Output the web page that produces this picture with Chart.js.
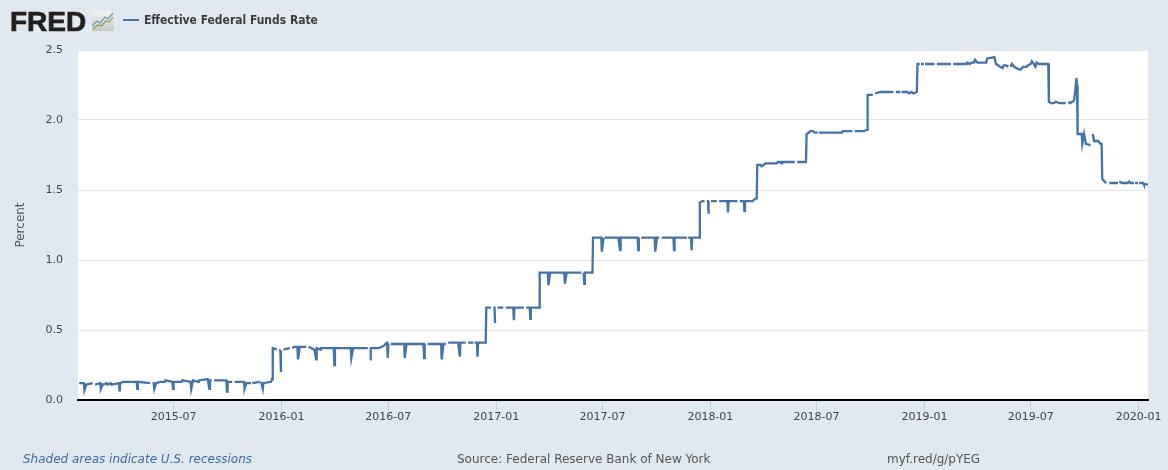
<!DOCTYPE html>
<html>
<head>
<meta charset="utf-8">
<title>Effective Federal Funds Rate</title>
<script src="https://cdn.jsdelivr.net/npm/chart.js@4"></script>
<style>
  html, body { margin: 0; padding: 0; background: #e1e9f0; }
  body { position: relative; width: 1168px; height: 470px; overflow: hidden; font-family: "DejaVu Sans", sans-serif; }
  canvas { position: absolute; left: 0; top: 0; }
  .logo { position: absolute; left: 10px; top: 5px; font: bold 28px/34px "Liberation Sans", sans-serif; color: #231f20; -webkit-text-stroke: 0.7px #231f20; }
  .icon { position: absolute; left: 92px; top: 11px; }
  .legend-line { position: absolute; left: 123px; top: 19px; width: 16px; height: 2px; background: #4572a7; }
  .legend-text { position: absolute; left: 144px; top: 12px; font-size: 12px; line-height: 16px; font-weight: bold; color: #3c3c3c; white-space: nowrap; transform: scaleX(0.897); transform-origin: left center; }
  .foot { position: absolute; top: 451px; font-size: 12px; line-height: 16px; color: #555; white-space: nowrap; }
  .foot.note { left: 23px; font-style: italic; color: #3e6a9f; }
  .foot.source { left: 457px; }
  .foot.link { left: 887px; }
</style>
</head>
<body>
<canvas id="chart" width="1168" height="470"></canvas>
<div class="logo">FRED</div>
<svg class="icon" width="22" height="20" viewBox="0 0 22 20">
  <defs><linearGradient id="g" x1="0" y1="0" x2="0" y2="1"><stop offset="0" stop-color="#f2f2f0"/><stop offset="1" stop-color="#c9c9c4"/></linearGradient></defs>
  <rect width="22" height="20" rx="2" fill="url(#g)"/>
  <polyline points="0,15 5,10 8,12 13,6 16,8 21,2" fill="none" stroke="#6f94b8" stroke-width="1.2"/>
  <polyline points="1,18 6,14 9,15 14,10 17,11 21,6" fill="none" stroke="#7ea04a" stroke-width="1.2"/>
</svg>
<div class="legend-line"></div>
<div class="legend-text">Effective Federal Funds Rate</div>
<div class="foot note">Shaded areas indicate U.S. recessions</div>
<div class="foot source">Source: Federal Reserve Bank of New York</div>
<div class="foot link">myf.red/g/pYEG</div>

<script>
// Values, one dates/rates pair per year. null = bank holiday (gap in the line)
const dates2015 = [
  '2015-01-21','2015-01-29','2015-01-30','2015-02-02','2015-02-13','2015-02-16','2015-02-17','2015-02-26','2015-02-27','2015-03-02',
  '2015-03-09','2015-03-10','2015-03-16','2015-03-17','2015-03-30','2015-03-31','2015-04-01','2015-04-06','2015-04-29','2015-04-30',
  '2015-05-01','2015-05-22','2015-05-25','2015-05-26','2015-05-28','2015-05-29','2015-06-01','2015-06-08','2015-06-16','2015-06-17',
  '2015-06-29','2015-06-30','2015-07-01','2015-07-15','2015-07-16','2015-07-30','2015-07-31','2015-08-03','2015-08-12','2015-08-13',
  '2015-08-28','2015-08-31','2015-09-01','2015-09-04','2015-09-07','2015-09-08','2015-09-29','2015-09-30','2015-10-01','2015-10-09',
  '2015-10-12','2015-10-13','2015-10-29','2015-10-30','2015-11-02','2015-11-10','2015-11-11','2015-11-12','2015-11-25','2015-11-26',
  '2015-11-27','2015-11-30','2015-12-01','2015-12-14','2015-12-16','2015-12-17','2015-12-24','2015-12-25','2015-12-28','2015-12-30',
  '2015-12-31'
];
const rates2015 = [
  0.12,0.12,0.07,0.11,0.12,null,0.11,0.12,0.08,0.11,
  0.12,0.11,0.12,0.11,0.12,0.06,0.12,0.13,0.13,0.08,
  0.13,0.12,null,0.12,0.12,0.08,0.12,0.13,0.13,0.14,
  0.13,0.08,0.13,0.13,0.14,0.13,0.08,0.14,0.13,0.14,
  0.15,0.08,0.14,0.14,null,0.14,0.14,0.06,0.13,0.13,
  null,0.13,0.13,0.08,0.12,0.12,null,0.12,0.13,null,
  0.13,0.08,0.12,0.13,0.15,0.37,0.36,null,0.36,0.35,
  0.20
];

const dates2016 = [
  '2016-01-01','2016-01-04','2016-01-15','2016-01-18','2016-01-19','2016-01-22','2016-01-28','2016-01-29','2016-02-01','2016-02-12',
  '2016-02-15','2016-02-16','2016-02-26','2016-02-29','2016-03-01','2016-03-07','2016-03-08','2016-03-30','2016-03-31','2016-04-01',
  '2016-04-28','2016-04-29','2016-05-02','2016-05-27','2016-05-30','2016-05-31','2016-06-01','2016-06-14','2016-06-20','2016-06-24',
  '2016-06-28','2016-06-29','2016-06-30','2016-07-01','2016-07-04','2016-07-05','2016-07-28','2016-07-29','2016-08-01','2016-08-30',
  '2016-08-31','2016-09-01','2016-09-02','2016-09-05','2016-09-06','2016-09-29','2016-09-30','2016-10-03','2016-10-07','2016-10-10',
  '2016-10-11','2016-10-28','2016-10-31','2016-11-01','2016-11-10','2016-11-11','2016-11-14','2016-11-23','2016-11-24','2016-11-25',
  '2016-11-29','2016-11-30','2016-12-01','2016-12-14','2016-12-15','2016-12-23','2016-12-26','2016-12-27','2016-12-29','2016-12-30'
];
const rates2016 = [
  null,0.36,0.37,null,0.37,0.38,0.38,0.29,0.38,0.38,
  null,0.38,0.36,0.29,0.37,0.36,0.37,0.37,0.25,0.37,
  0.37,0.30,0.37,0.37,null,0.29,0.37,0.37,0.38,0.39,
  0.41,0.41,0.30,0.40,null,0.40,0.40,0.30,0.40,0.40,
  0.30,0.40,0.40,null,0.40,0.40,0.29,0.40,0.40,null,
  0.41,0.41,0.31,0.41,0.41,null,0.41,0.41,null,0.41,
  0.41,0.31,0.41,0.41,0.66,0.66,null,0.66,0.66,0.55
];

const dates2017 = [
  '2017-01-02','2017-01-03','2017-01-13','2017-01-16','2017-01-17','2017-01-30','2017-01-31','2017-02-01','2017-02-17','2017-02-20',
  '2017-02-21','2017-02-27','2017-02-28','2017-03-01','2017-03-15','2017-03-16','2017-03-30','2017-03-31','2017-04-03','2017-04-27',
  '2017-04-28','2017-05-01','2017-05-26','2017-05-29','2017-05-30','2017-05-31','2017-06-01','2017-06-14','2017-06-15','2017-06-29',
  '2017-06-30','2017-07-03','2017-07-04','2017-07-05','2017-07-28','2017-07-31','2017-08-01','2017-08-30','2017-08-31','2017-09-01',
  '2017-09-04','2017-09-05','2017-09-28','2017-09-29','2017-10-02','2017-10-06','2017-10-09','2017-10-10','2017-10-30','2017-10-31',
  '2017-11-01','2017-11-22','2017-11-23','2017-11-24','2017-11-29','2017-11-30','2017-12-01','2017-12-13','2017-12-14','2017-12-18',
  '2017-12-22','2017-12-25','2017-12-26','2017-12-28','2017-12-29'
];
const rates2017 = [
  null,0.66,0.66,null,0.66,0.66,0.57,0.66,0.66,null,
  0.66,0.66,0.58,0.66,0.66,0.91,0.91,0.82,0.91,0.91,
  0.83,0.91,0.91,null,0.91,0.83,0.91,0.91,1.16,1.16,
  1.06,1.16,null,1.16,1.16,1.07,1.16,1.16,1.07,1.16,
  null,1.16,1.16,1.06,1.16,1.16,null,1.16,1.16,1.07,
  1.16,1.16,null,1.16,1.16,1.07,1.16,1.16,1.41,1.42,
  1.42,null,1.42,1.42,1.33
];

const dates2018 = [
  '2018-01-01','2018-01-02','2018-01-12','2018-01-15','2018-01-16','2018-01-30','2018-01-31','2018-02-01','2018-02-16','2018-02-19',
  '2018-02-20','2018-02-27','2018-02-28','2018-03-01','2018-03-14','2018-03-16','2018-03-20','2018-03-21','2018-03-22','2018-03-27',
  '2018-03-29','2018-04-02','2018-04-05','2018-04-24','2018-04-26','2018-05-01','2018-05-02','2018-05-03','2018-05-25','2018-05-28',
  '2018-05-29','2018-06-13','2018-06-14','2018-06-18','2018-06-20','2018-06-25','2018-06-28','2018-07-03','2018-07-04','2018-07-05',
  '2018-08-13','2018-08-15','2018-08-31','2018-09-03','2018-09-04','2018-09-20','2018-09-25','2018-09-26','2018-10-05','2018-10-08',
  '2018-10-09','2018-10-18','2018-11-09','2018-11-12','2018-11-13','2018-11-21','2018-11-22','2018-11-23','2018-12-03','2018-12-06',
  '2018-12-10','2018-12-13','2018-12-19','2018-12-20','2018-12-24','2018-12-25','2018-12-26','2018-12-31'
];
const rates2018 = [
  null,1.42,1.42,null,1.42,1.42,1.34,1.42,1.42,null,
  1.42,1.42,1.35,1.42,1.42,1.43,1.44,1.45,1.68,1.68,
  1.67,1.68,1.69,1.69,1.70,1.70,1.69,1.70,1.70,null,
  1.70,1.70,1.90,1.91,1.92,1.92,1.91,1.91,null,1.91,
  1.91,1.92,1.92,null,1.92,1.92,1.93,2.18,2.18,null,
  2.19,2.20,2.20,null,2.20,2.20,null,2.20,2.20,2.19,
  2.20,2.19,2.20,2.40,2.40,null,2.40,2.40
];

const dates2019 = [
  '2019-01-01','2019-01-02','2019-01-18','2019-01-21','2019-01-22','2019-02-15','2019-02-18','2019-02-19','2019-03-14','2019-03-15',
  '2019-03-19','2019-03-22','2019-03-26','2019-03-28','2019-04-01','2019-04-16','2019-04-18','2019-04-30','2019-05-01','2019-05-03',
  '2019-05-07','2019-05-10','2019-05-14','2019-05-16','2019-05-20','2019-05-24','2019-05-27','2019-05-28','2019-05-30','2019-06-03',
  '2019-06-07','2019-06-12','2019-06-14','2019-06-18','2019-06-24','2019-06-26','2019-07-01','2019-07-03','2019-07-05','2019-07-09',
  '2019-07-11','2019-07-15','2019-07-31','2019-08-01','2019-08-05','2019-08-09','2019-08-13','2019-08-19','2019-08-30','2019-09-02',
  '2019-09-03','2019-09-06','2019-09-10','2019-09-13','2019-09-16','2019-09-17','2019-09-18','2019-09-19','2019-09-26','2019-09-27',
  '2019-09-30','2019-10-03','2019-10-11','2019-10-14','2019-10-15','2019-10-17','2019-10-24','2019-10-28','2019-10-30','2019-10-31',
  '2019-11-04','2019-11-07','2019-11-08','2019-11-11','2019-11-12','2019-11-27','2019-11-28','2019-11-29','2019-12-04','2019-12-13',
  '2019-12-16','2019-12-18','2019-12-24','2019-12-25','2019-12-26','2019-12-31'
];
const rates2019 = [
  null,2.40,2.40,null,2.40,2.40,null,2.40,2.40,2.41,
  2.40,2.41,2.41,2.43,2.41,2.41,2.44,2.45,2.45,2.40,
  2.39,2.38,2.37,2.39,2.39,2.38,null,2.38,2.40,2.38,
  2.37,2.36,2.36,2.38,2.38,2.39,2.40,2.42,2.41,2.38,
  2.41,2.40,2.40,2.13,2.12,2.12,2.13,2.12,2.12,null,
  2.13,2.12,2.13,2.14,2.25,2.30,2.25,1.90,1.90,1.83,
  1.90,1.83,1.82,null,1.90,1.85,1.85,1.83,1.83,1.58,
  1.56,1.55,1.55,null,1.55,1.55,null,1.56,1.55,1.55,
  1.56,1.55,1.55,null,1.55,1.55
];

const dates2020 = ['2020-01-01','2020-01-02','2020-01-09','2020-01-10','2020-01-17'];
const rates2020 = [null,1.55,1.55,1.54,1.54];

const tickLabels = ['2015-07','2016-01','2016-07','2017-01','2017-07','2018-01','2018-07','2019-01','2019-07','2020-01'];
const yTicks = [0, 0.5, 1, 1.5, 2, 2.5];
const xStart = '2015-01-19';
const xEnd = '2020-01-17';

const dates = [].concat(dates2015, dates2016, dates2017, dates2018, dates2019, dates2020);
const rates = [].concat(rates2015, rates2016, rates2017, rates2018, rates2019, rates2020);

const toTime = (s) => Date.parse(s.length === 7 ? s + '-01' : s);
const points = dates.map((d, i) => ({ x: toTime(d), y: rates[i] }));

// White plot background, the page itself stays grey-blue
const plotBackground = {
  id: 'plotBackground',
  beforeDraw(chart) {
    const { ctx, chartArea: a } = chart;
    ctx.save();
    ctx.fillStyle = '#fff';
    ctx.fillRect(a.left, a.top, a.right - a.left, a.bottom - a.top);
    ctx.restore();
  }
};

new Chart(document.getElementById('chart').getContext('2d'), {
  type: 'line',
  data: {
    datasets: [{
      label: 'Effective Federal Funds Rate',
      data: points,
      borderColor: '#4572a7',
      borderWidth: 2.3,
      pointRadius: 0,
      tension: 0,
      spanGaps: false
    }]
  },
  options: {
    responsive: false,
    animation: false,
    layout: { padding: { top: 50, right: 20 } },
    plugins: { legend: { display: false }, tooltip: { enabled: false } },
    scales: {
      x: {
        type: 'linear',
        min: toTime(xStart),
        max: toTime(xEnd),
        afterFit: (scale) => { scale.height = 70; scale.paddingLeft = 0; scale.paddingRight = 0; },
        afterBuildTicks: (scale) => { scale.ticks = tickLabels.map((t) => ({ value: toTime(t) })); },
        grid: { drawOnChartArea: false, drawTicks: true, tickLength: 10, color: '#c0d0e0' },
        border: { color: '#000', width: 2 },
        ticks: {
          autoSkip: false,
          maxRotation: 0,
          padding: 1,
          color: '#444',
          font: { family: '"DejaVu Sans"', size: 11 },
          callback: (v) => new Date(v).toISOString().slice(0, 7)
        }
      },
      y: {
        min: 0,
        max: 2.5,
        afterFit: (scale) => { scale.width = 78; scale.paddingTop = 0; scale.paddingBottom = 0; },
        afterBuildTicks: (scale) => { scale.ticks = yTicks.map((v) => ({ value: v })); },
        grid: { color: '#e6e6e6', drawTicks: false },
        border: { display: false },
        ticks: {
          padding: 15,
          color: '#444',
          font: { family: '"DejaVu Sans"', size: 11 },
          callback: (v) => v.toFixed(1)
        },
        title: {
          display: true,
          text: 'Percent',
          color: '#555',
          font: { family: '"DejaVu Sans"', size: 12 },
          padding: { top: 14, bottom: 0 }
        }
      }
    }
  },
  plugins: [plotBackground]
});
</script>
</body>
</html>
